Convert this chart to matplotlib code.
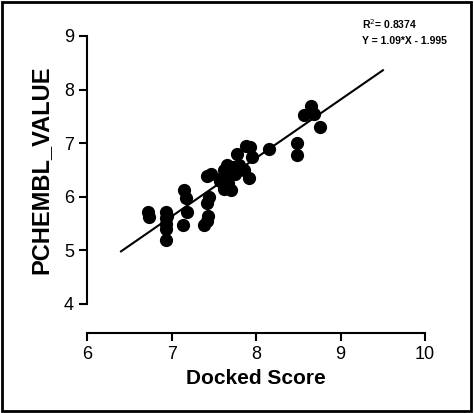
import matplotlib
matplotlib.use("Agg")
import matplotlib.pyplot as plt
from matplotlib.patches import Rectangle

docked = [6.72, 6.73, 6.93, 6.93, 6.93, 6.93, 6.93, 6.95,
          7.15, 7.17, 7.18, 7.13,
          7.38, 7.42, 7.43, 7.42, 7.44, 7.42, 7.47,
          7.57, 7.60, 7.62, 7.65, 7.68, 7.62, 7.70, 7.72, 7.75, 7.80, 7.77, 7.67,
          7.85, 7.88, 7.93, 7.95, 7.92, 8.15,
          8.48, 8.48, 8.57, 8.65, 8.68, 8.75]
pchembl = [5.72, 5.63, 5.72, 5.60, 5.50, 5.40, 5.20, 5.65,
           6.12, 5.98, 5.72, 5.47,
           5.48, 5.55, 5.65, 5.88, 6.00, 6.38, 6.42,
           6.30, 6.35, 6.50, 6.60, 6.45, 6.15, 6.13, 6.55, 6.42, 6.60, 6.80, 6.25,
           6.50, 6.95, 6.92, 6.75, 6.35, 6.90,
           7.00, 6.77, 7.52, 7.70, 7.55, 7.30]
slope, intercept = 1.09, -1.995
fit_x = [6.4, 9.5]

plt.rcParams['font.family'] = ['Liberation Sans', 'DejaVu Sans']
fig = plt.figure(figsize=(4.74, 4.13), dpi=100)
ax = fig.add_axes([0.184, 0.264, 0.713, 0.649])

ax.plot(docked, pchembl, 'o', color='black', markersize=8.5)
ax.plot(fit_x, [slope * x + intercept for x in fit_x], color='black', lw=1.5)

ax.set_xlim(6, 10)
ax.set_ylim(4, 9)
ax.set_xticks([6, 7, 8, 9, 10])
ax.set_yticks([4, 5, 6, 7, 8, 9])
for s in ['top', 'right']:
    ax.spines[s].set_visible(False)
ax.spines['bottom'].set_position(('outward', 21))
ax.spines['left'].set_linewidth(1.5)
ax.spines['bottom'].set_linewidth(1.5)
ax.tick_params(width=1.5, length=6, labelsize=13)
ax.set_xlabel('Docked Score', fontsize=15, fontweight='bold')
ax.set_ylabel('PCHEMBL_VALUE', fontsize=17, fontweight='bold', labelpad=8)

fig.text(0.764, 0.93, r'R$^2$= 0.8374', fontsize=7.5, fontweight='bold')
fig.text(0.764, 0.893, 'Y = 1.09*X - 1.995', fontsize=7.5, fontweight='bold')

fig.patches.append(Rectangle((0.004, 0.005), 0.99, 0.99, transform=fig.transFigure,
                             fill=False, edgecolor='black', lw=2))
fig.savefig('out.png', dpi=100)
